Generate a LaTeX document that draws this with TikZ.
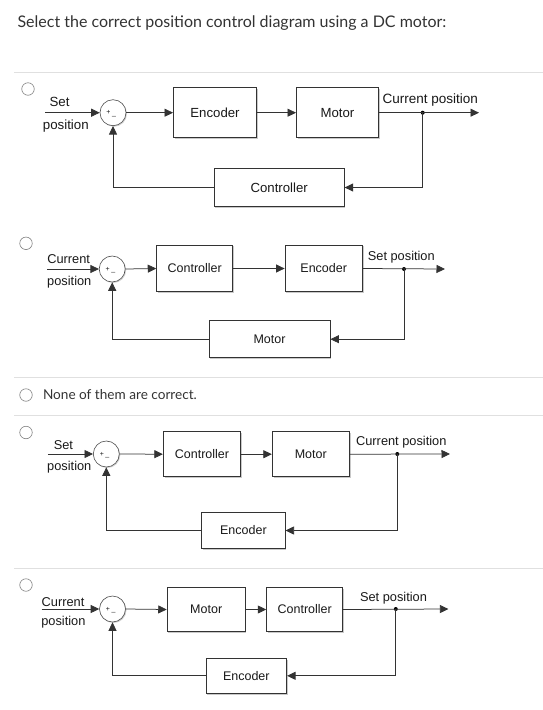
\documentclass[tikz,border=0pt]{standalone}
\usepackage{fontspec}
\setmainfont{Lato}
\newfontfamily\blockfont{Liberation Sans}
\usetikzlibrary{shadows,arrows.meta}

\begin{document}
\begin{tikzpicture}[x=1pt,y=-1pt,
  blk/.style={draw=black!80, line width=0.9pt, fill=white, inner sep=0pt, text=black!90,
    font=\blockfont\fontsize{12.5}{14}\selectfont,
    drop shadow={shadow xshift=1.2pt, shadow yshift=-1.2pt, opacity=0.35, fill=black!60}},
  sumc/.style={circle, draw=black!70, line width=0.6pt, fill=white, minimum size=26pt, inner sep=0pt,
    drop shadow={shadow xshift=1pt, shadow yshift=-1pt, opacity=0.3, fill=black!60}},
  sgn/.style={font=\blockfont\fontsize{7}{8}\selectfont, inner sep=0pt, text=black!90},
  wire/.style={draw=black!80, line width=0.75pt},
  tip/.style={-{Triangle[length=8.5pt,width=8pt]}},
  lbl/.style={font=\blockfont\fontsize{12.8}{14}\selectfont, text=black!90, inner sep=0pt},
  radio/.style={circle, draw=black!50, line width=0.6pt, minimum size=12.5pt, inner sep=0pt},
  sep/.style={draw=black!12, line width=0.8pt},
  dot/.style={circle, fill=black, minimum size=4pt, inner sep=0pt}]

\fill [white] (0,0) rectangle (543,710) ;
\useasboundingbox (0,0) rectangle (543,710) ;

\node (title) at (14,23) [anchor=west, font=\fontsize{16}{19}\selectfont, text=black!80] {Select the correct position control diagram using a DC motor:} ;

% separators
\draw [sep] (14,72) -- (543,72) ;
\draw [sep] (14,377.3) -- (543,377.3) ;
\draw [sep] (14,415.3) -- (543,415.3) ;
\draw [sep] (14,568.3) -- (543,568.3) ;

% option 1
\node [radio] (r1) at (28,89) {} ;
\node [lbl, font=\blockfont\fontsize{13.3}{15}\selectfont] (in1a) at (59.6,102.3) {Set} ;
\node [lbl, font=\blockfont\fontsize{13.3}{15}\selectfont] (in1b) at (65.8,126) {position} ;
\coordinate (i1) at (45,112.7) ;
\node [sumc] (s1) at (113,112.7) {} ;
\node [sgn] (s1p) at ([xshift=-4.5pt]s1.center) {+} ;
\node [sgn] (s1m) at ([xshift=1pt,yshift=-3pt]s1.center) {\_} ;
\node [blk, minimum width=83pt, minimum height=50pt, font=\blockfont\fontsize{13.2}{15}\selectfont] (e1) at (215,112.7) {Encoder} ;
\node [blk, minimum width=82pt, minimum height=50pt, font=\blockfont\fontsize{13.2}{15}\selectfont] (m1) at (337.5,112.7) {Motor} ;
\node [blk, minimum width=130pt, minimum height=38pt, font=\blockfont\fontsize{13.2}{15}\selectfont] (k1) at (279.2,187.5) {Controller} ;
\node [lbl, font=\blockfont\fontsize{13.5}{15}\selectfont] (out1) at (430.2,100) {Current position} ;
\node [dot] (d1) at (422.7,112.7) {} ;
\coordinate (o1) at (479,112.7) ;
\draw [wire, tip] (i1) -- (s1.west) ;
\draw [wire, tip] (s1.east) -- (e1.west) ;
\draw [wire, tip] (e1.east) -- (m1.west) ;
\draw [wire, tip] (m1.east) -- (o1) ;
\draw [wire, tip] (d1.center) |- (k1.east) ;
\draw [wire, tip] (k1.west) -| (s1.south) ;

% option 2
\node [radio] (r2) at (26,243.3) {} ;
\node [lbl] (in2a) at (68.7,259.3) {Current} ;
\node [lbl] (in2b) at (69.3,281.7) {position} ;
\coordinate (i2) at (47.3,269) ;
\node [sumc] (s2) at (112.2,269) {} ;
\node [sgn] (s2p) at ([xshift=-4.5pt]s2.center) {+} ;
\node [sgn] (s2m) at ([xshift=1pt,yshift=-3pt]s2.center) {\_} ;
\node [blk, minimum width=76pt, minimum height=46.7pt] (k2) at (194.7,268.5) {Controller} ;
\node [blk, minimum width=77.3pt, minimum height=46.7pt] (e2) at (323.7,268.5) {Encoder} ;
\node [blk, minimum width=121pt, minimum height=37pt] (m2) at (269.5,339.2) {Motor} ;
\node [lbl] (out2) at (401.3,256.7) {Set position} ;
\node [dot] (d2) at (404,269) {} ;
\coordinate (o2) at (445,269) ;
\draw [wire, tip] (i2) -- (s2.west) ;
\draw [wire, tip] (s2.east) -- (k2.west) ;
\draw [wire, tip] (k2.east) -- (e2.west) ;
\draw [wire, tip] (e2.east) -- (o2) ;
\draw [wire, tip] (d2.center) |- (m2.east) ;
\draw [wire, tip] (m2.west) -| (s2.south) ;

% option 3
\node [radio] (r3) at (26,395) {} ;
\node (none) at (39.5,395) [anchor=west, font=\fontsize{13.6}{16}\selectfont, text=black!80] {None of them are correct.} ;

% option 4
\node [radio] (r4) at (26,432.5) {} ;
\node [lbl] (in4a) at (63.4,445) {Set} ;
\node [lbl] (in4b) at (69.3,467.3) {position} ;
\coordinate (i4) at (47.8,454) ;
\node [sumc] (s4) at (106.3,454) {} ;
\node [sgn] (s4p) at ([xshift=-4.5pt]s4.center) {+} ;
\node [sgn] (s4m) at ([xshift=1pt,yshift=-3pt]s4.center) {\_} ;
\node [blk, minimum width=77.4pt, minimum height=45pt] (k4) at (202,454.2) {Controller} ;
\node [blk, minimum width=77pt, minimum height=45pt] (m4) at (310.8,454.2) {Motor} ;
\node [blk, minimum width=83.3pt, minimum height=35.7pt] (e4) at (243.4,530.5) {Encoder} ;
\node [lbl] (out4) at (401.3,442.5) {Current position} ;
\node [dot] (d4) at (397.3,454) {} ;
\coordinate (o4) at (450,454) ;
\draw [wire, tip] (i4) -- (s4.west) ;
\draw [wire, tip] (s4.east) -- (k4.west) ;
\draw [wire, tip] (k4.east) -- (m4.west) ;
\draw [wire, tip] (m4.east) -- (o4) ;
\draw [wire, tip] (d4.center) |- (e4.east) ;
\draw [wire, tip] (e4.west) -| (s4.south) ;

% option 5
\node [radio] (r5) at (26,585) {} ;
\node [lbl] (in5a) at (63,601.7) {Current} ;
\node [lbl] (in5b) at (63.4,621.7) {position} ;
\coordinate (i5) at (41.6,609) ;
\node [sumc] (s5) at (112.5,609) {} ;
\node [sgn] (s5p) at ([xshift=-4.5pt]s5.center) {+} ;
\node [sgn] (s5m) at ([xshift=1pt,yshift=-3pt]s5.center) {\_} ;
\node [blk, minimum width=78pt, minimum height=44.3pt] (m5) at (206.2,609.5) {Motor} ;
\node [blk, minimum width=76pt, minimum height=44.3pt] (k5) at (304.7,609.5) {Controller} ;
\node [blk, minimum width=80.7pt, minimum height=35pt] (e5) at (246.3,675.8) {Encoder} ;
\node [lbl] (out5) at (393.5,598.3) {Set position} ;
\node [dot] (d5) at (395.8,609) {} ;
\coordinate (o5) at (448.4,609) ;
\draw [wire, tip] (i5) -- (s5.west) ;
\draw [wire, tip] (s5.east) -- (m5.west) ;
\draw [wire, tip] (m5.east) -- (k5.west) ;
\draw [wire, tip] (k5.east) -- (o5) ;
\draw [wire, tip] (d5.center) |- (e5.east) ;
\draw [wire, tip] (e5.west) -| (s5.south) ;
\end{tikzpicture}
\end{document}
